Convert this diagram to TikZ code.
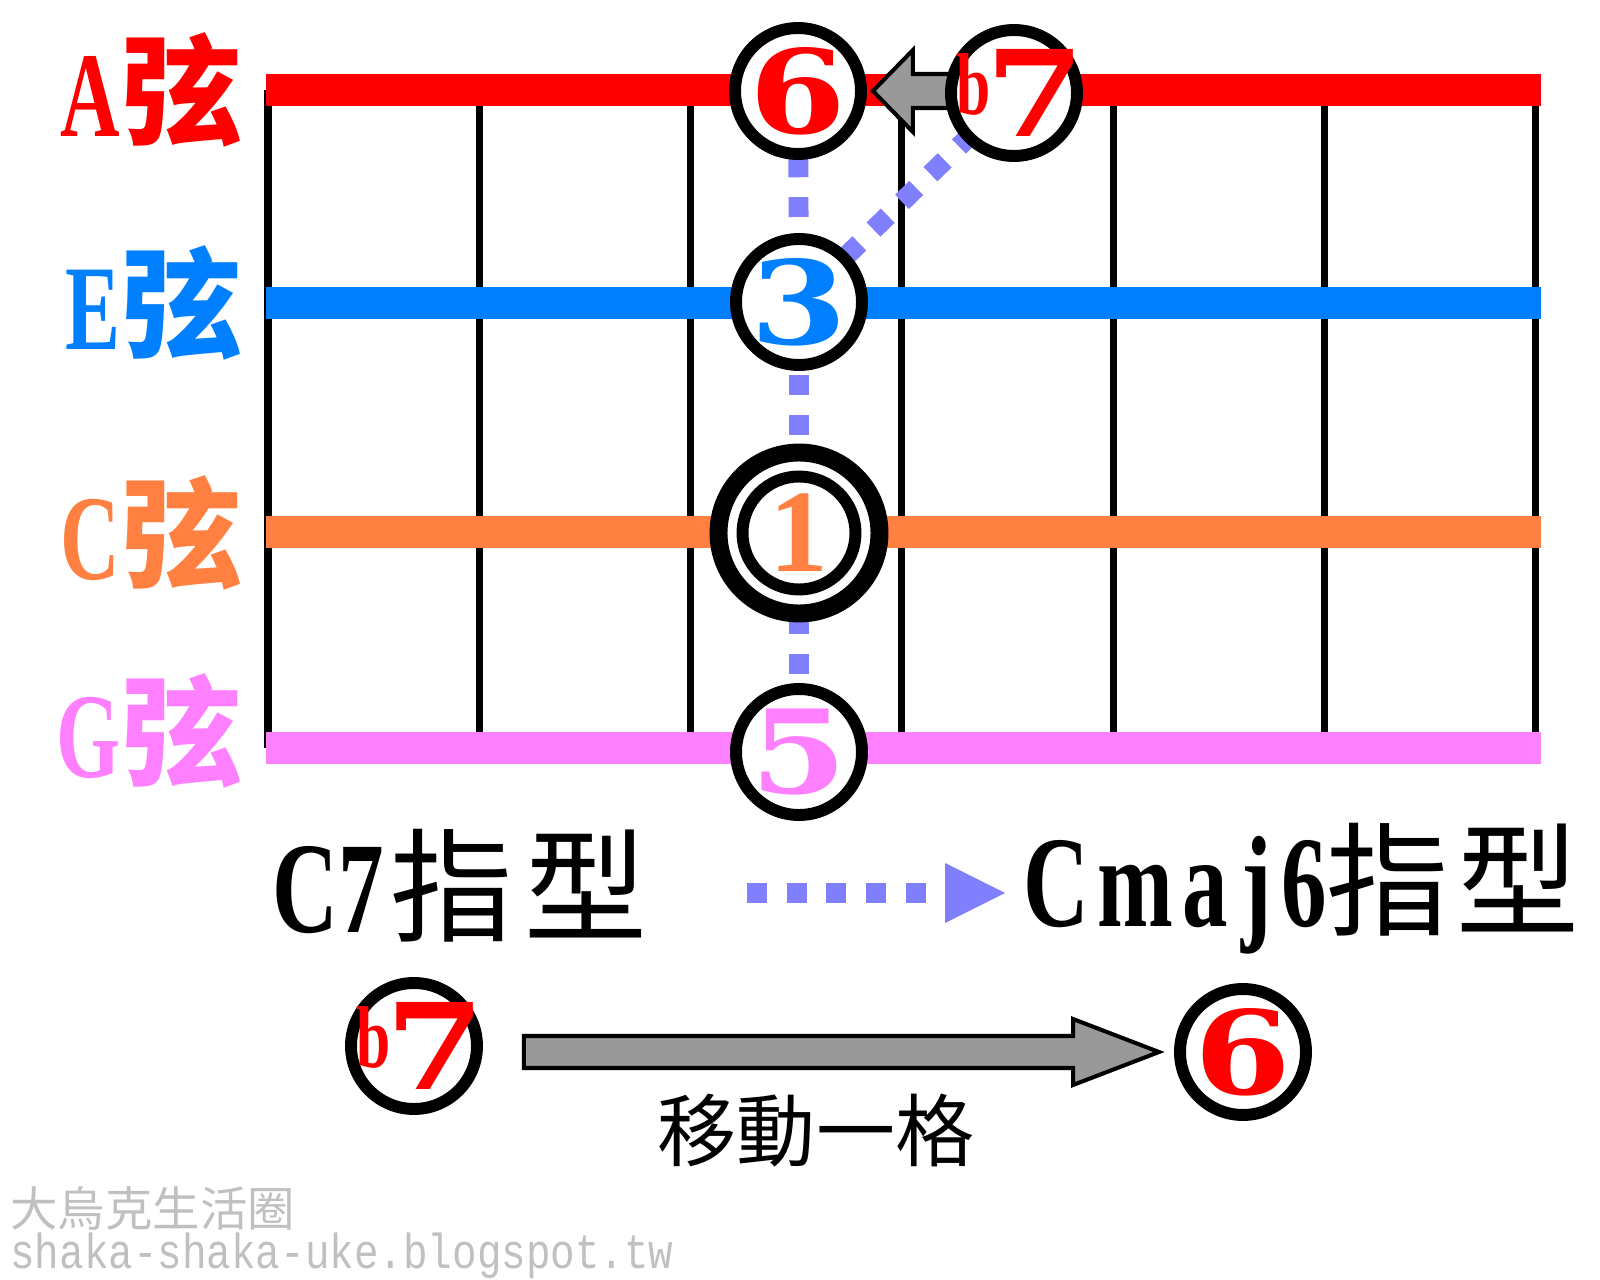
\documentclass[tikz,border=0pt]{standalone}
\usepackage{fontspec}
\setmainfont{Liberation Serif}
\newfontfamily\cjk{Noto Sans CJK TC}
\newfontfamily\labelfont[FakeStretch=0.68]{Liberation Serif}
\newfontfamily\titlefont[FakeStretch=0.7]{Liberation Serif}
\newfontfamily\digitfont[FakeStretch=1.2]{DejaVu Serif}
\newfontfamily\urlfont{Liberation Mono}
\usetikzlibrary{calc}
\pgfdeclarelayer{background}
\pgfsetlayers{background,main}

\definecolor{colA}{HTML}{FF0000}
\definecolor{colE}{HTML}{0080FF}
\definecolor{colC}{HTML}{FF8040}
\definecolor{colG}{HTML}{FF80FF}
\definecolor{dotBlue}{HTML}{8080FF}
\definecolor{arrowGray}{HTML}{999999}
\definecolor{markGray}{HTML}{C0C0C0}

\def\fretdx{211.3}
\newcommand{\zh}[1]{{\cjk\mdseries\fontsize{70pt}{74pt}\selectfont #1}}
\newcommand{\bseven}{{\titlefont\bfseries\fontsize{50pt}{50pt}\selectfont\raisebox{12.5pt}{b}}\kern-3pt{\fontsize{68pt}{68pt}\selectfont 7}}

\begin{document}
\begin{tikzpicture}[x=0.02cm, y=-0.02cm,
		strline/.style={line width=18pt},
		fret/.style={line width=4pt, black},
		note/.style={circle, draw, fill=white, line width=6.8pt, minimum size=2.52cm, inner sep=0pt},
		digit/.style={inner sep=0pt, font=\digitfont\bfseries\fontsize{66pt}{66pt}\selectfont},
		dotline/.style={dotBlue, line width=11.3pt, dash pattern=on 11.3pt off 11.3pt},
		blockarrow/.style={draw=black, fill=arrowGray, line width=2.3pt, line join=miter},
		strlabel/.style={anchor=base east, inner sep=0pt, font=\fontsize{69pt}{72pt}\selectfont},
		fingertitle/.style={inner sep=0pt, font=\titlefont\bfseries\fontsize{74pt}{80pt}\selectfont},
		wmark/.style={anchor=base west, inner sep=0pt, text=markGray}]
		
		\useasboundingbox (0,0) rectangle (1600,1280);
		
		% ---------- String names ----------
		\foreach \s/\col/\b in {A/colA/137, E/colE/350, C/colC/580, G/colG/777}{
			\node[strlabel, text=\col] (lab\s) at (242,\b) {{\labelfont\bfseries\s}{\cjk\bfseries 弦}};
		}
		
		% ---------- Notes on the fretboard ----------
		\node[note, label={[digit, text=colA]center:6}] (sixA) at (798,91) {};
		\node[note, label={[digit, text=colA, xshift=4pt]center:\bseven}] (sevA) at (1014,93) {};
		\node[note, label={[digit, text=colE]center:3}] (three) at (799,302) {};
		\node[note, minimum size=3.22cm, line width=10.2pt,
			label={[inner sep=0pt, text=colC, font=\bfseries\fontsize{67pt}{67pt}\selectfont]center:1}] (one) at (799,533) {};
		\draw[line width=6.8pt] (one.center) circle (56.5); % inner ring of the root
		\node[note, label={[digit, text=colG]center:5}] (five) at (799,752) {};
		
		% ---------- Grid, dotted shape lines, move arrow (behind the notes) ----------
		\begin{pgfonlayer}{background}
			\foreach \k in {0,...,6}{
				\draw[fret] ({268+\fretdx*\k},90) -- ({268+\fretdx*\k},748);
			}
			\foreach \col/\y in {colA/90, colE/303, colC/532, colG/748}{
				\draw[strline, \col] (266,\y) -- (1541,\y);
			}
			\draw[dotline, dash phase=7.4pt] (sixA.center) -- (three.center);
			\draw[dotline, dash phase=3.4pt] (three.center) -- (one.center);
			\draw[dotline, dash phase=21.5pt] (one.center) -- (five.center);
			\draw[dotline, dash phase=12.8pt] (sevA.center) -- (three.center);
			
			% b7 slides one fret down to 6
			\coordinate (tipA) at ($(sixA.east)+(6,0)$);
			\draw[blockarrow] (tipA) -- ++(40,-41) -- ++(0,24) -- ++(70,0) -- ++(0,34)
			-- ++(-70,0) -- ++(0,24) -- cycle;
		\end{pgfonlayer}
		
		% ---------- Shape names ----------
		\node[fingertitle, anchor=base west] (titleL) at (272,932) {C7\kern4pt\zh{指\kern6pt 型}};
		\node[fingertitle, anchor=base east] (titleR) at (1580,926)
		{C\kern5pt m\kern5pt a\kern8pt j\kern5pt 6\zh{指\kern4pt 型}};
		
		\coordinate (arrS) at (747,893);
		\coordinate (arrE) at (927,893);
		\draw[dotline] (arrS) -- (arrE);
		\fill[dotBlue] ($(arrE)+(18,-30)$) -- ++(60,30) -- ++(-60,30) -- cycle;
		
		% ---------- Bottom row: b7 -> 6 ----------
		\node[note, label={[digit, text=colA, xshift=4pt]center:\bseven}] (sevB) at (414,1046) {};
		\node[note, label={[digit, text=colA]center:6}] (sixB) at (1243,1052) {};
		
		\coordinate (tipB) at ($(sixB.west)+(-15,0)$);
		\coordinate (tailB) at (sevB.east |- tipB);
		\draw[blockarrow] (tipB) -- ++(-86,-33) -- ++(0,17) -- ($(tailB)+(41,-16)$) -- ++(0,32)
		-- ($(tipB)+(-86,16)$) -- ++(0,17) -- cycle;
		\node[inner sep=0pt, font=\cjk\fontsize{45pt}{48pt}\selectfont] (moveTxt) at (816,1131) {移動一格};
		
		% ---------- Watermark ----------
		\node[wmark, text depth=0pt, font=\cjk\fontsize{27pt}{30pt}\selectfont] (wmName) at (10,1226) {大烏克生活圈};
		\node[wmark, font=\urlfont\fontsize{23.3pt}{25pt}\selectfont] (wmUrl) at (10,1268)
		{\scalebox{1}[1.2]{shaka-shaka-uke.blogspot.tw}};
		
	\end{tikzpicture}
\end{document}
